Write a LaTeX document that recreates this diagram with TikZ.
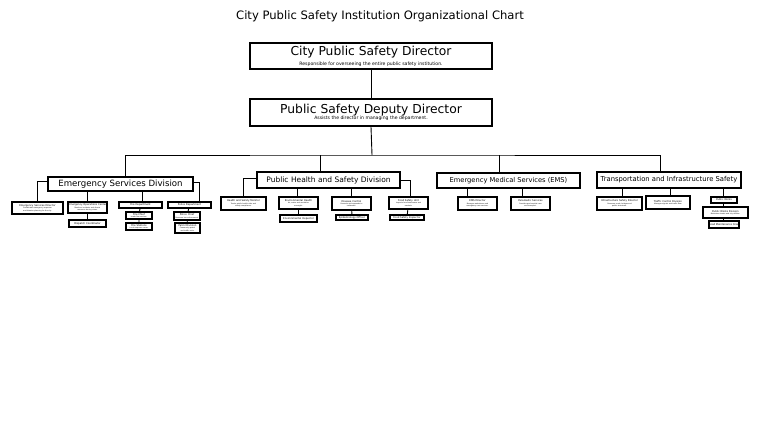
\documentclass[tikz,border=0pt]{standalone}
\usepackage{fontspec}
\setmainfont{DejaVu Sans}
\usepackage{tikz}
\newcommand{\boxttl}{\fontsize{2.5}{2.9}\selectfont}
\newcommand{\boxdsc}{\fontsize{1.7}{2.3}\selectfont}

\begin{document}
\begin{tikzpicture}[x=1pt,y=-1pt,
  topbox/.style={draw,line width=1.7pt,fill=white,inner sep=0pt,align=center,font=\fontsize{4.6}{5}\selectfont},
  divbox/.style={draw,line width=1.6pt,fill=white,inner sep=0pt},
  unitbox/.style={draw,line width=1.5pt,fill=white,inner sep=0pt,align=center,font=\boxdsc},
  link/.style={line width=0.9pt}]

 \useasboundingbox (0,0) rectangle (768,431);
 \node (title) at (380,16) {\fontsize{11.6}{13}\selectfont City Public Safety Institution Organizational Chart};

 \node[topbox,minimum width=242,minimum height=26] (director) at (371,56)
   {{\fontsize{12.3}{11}\selectfont City Public Safety Director}\\[3pt]Responsible for overseeing the entire public safety institution.};
 \node[topbox,minimum width=242,minimum height=27] (deputy) at (371,112.5)
   {{\fontsize{12.3}{9}\selectfont Public Safety Deputy Director}\\[-1.5pt]Assists the director in managing the department.};

 \node[divbox,minimum width=145,minimum height=14,font=\fontsize{8.6}{9}\selectfont] (esd) at (120.5,184) {Emergency Services Division};
 \node[divbox,minimum width=143,minimum height=16,font=\fontsize{7.5}{9}\selectfont] (phs) at (328.5,180) {Public Health and Safety Division};
 \node[divbox,minimum width=143,minimum height=15,font=\fontsize{6.7}{9}\selectfont] (ems) at (508.5,180.5) {Emergency Medical Services (EMS)};
 \node[divbox,minimum width=144,minimum height=16,font=\fontsize{6.8}{9}\selectfont] (tis) at (669,180) {Transportation and Infrastructure Safety};

 \coordinate (bus) at (372,155);
 \draw[link] (director) -- (deputy);
 \draw[link] (deputy.south) -- (bus);
 \draw[link] ([xshift=4.5]esd.north) |- (bus) -| ([xshift=-9]tis.north);
 \draw[link] ([xshift=-8.5]phs.north) -- ([xshift=-8.5]phs.north |- bus);
 \draw[link] ([xshift=-9.5]ems.north) -- ([xshift=-9.5]ems.north |- bus);

 % emergency services
 \node[unitbox,minimum width=51,minimum height=12] (esdA) at (37.5,208)
   {{\boxttl Emergency Services Director}\\Coordinates emergency response\\and disaster planning for the city.};
 \node[unitbox,minimum width=39,minimum height=11] (esdB) at (87.5,207.5)
   {{\boxttl Emergency Operations Center}\\Monitors incidents and directs\\resources during crises.};
 \node[unitbox,minimum width=37,minimum height=7] (esdBa) at (87.5,223.5) {\boxttl Dispatch Coordinator};
 \node[unitbox,minimum width=43,minimum height=6] (esdC) at (140.5,205) {\boxttl Fire Department};
 \node[unitbox,minimum width=26,minimum height=7] (esdCa) at (139,215.5) {{\boxttl Fire Chief}\\Leads fire services.};
 \node[unitbox,minimum width=26,minimum height=7] (esdCb) at (139,226.5) {{\boxttl Fire Stations}\\Local response crews.};
 \node[unitbox,minimum width=43,minimum height=6] (esdD) at (189.5,205) {\boxttl Police Department};
 \node[unitbox,minimum width=26,minimum height=8] (esdDa) at (187,216) {{\boxttl Police Chief}\\Oversees law enforcement.};
 \node[unitbox,minimum width=25,minimum height=10] (esdDb) at (187.5,228) {{\boxttl Patrol Division}\\Community patrol\\and traffic units.};

 \draw[link] ([yshift=2.5]esd.west) -| (esdA.north);
 \draw[link] (esdB.north) -- (esdB.north |- esd.south);
 \draw[link] ([xshift=1.5]esdC.north) -- ([xshift=1.5]esdC.north |- esd.south);
 \draw[link] ([yshift=1.5]esd.east) -| ([xshift=9.5]esdD.north);
 \draw[link] (esdB) -- (esdBa);
 \draw[link] (esdC) -- (esdCa) -- (esdCb);
 \draw[link] (esdD) -- (esdDa) -- (esdDb);

 % public health
 \node[unitbox,minimum width=45,minimum height=13] (phsA) at (243.5,203.5)
   {{\boxttl Health and Safety Monitor}\\Tracks public health risks and\\safety compliance.};
 \node[unitbox,minimum width=39,minimum height=12] (phsB) at (298.5,203)
   {{\boxttl Environmental Health}\\Air, water and sanitation\\oversight.};
 \node[unitbox,minimum width=37,minimum height=7] (phsBa) at (298.5,218.5) {\boxttl Environmental Inspector};
 \node[unitbox,minimum width=39,minimum height=13] (phsC) at (351.5,203.5)
   {{\boxttl Disease Control}\\Prevents and responds to\\outbreaks.};
 \node[unitbox,minimum width=32,minimum height=5] (phsCa) at (352,217.5) {\boxttl Epidemiology Officer};
 \node[unitbox,minimum width=39,minimum height=12] (phsD) at (408.5,203)
   {{\boxttl Food Safety Unit}\\Inspects food businesses and\\markets.};
 \node[unitbox,minimum width=34,minimum height=5] (phsDa) at (407,217.5) {\boxttl Food Safety Inspector};

 \draw[link] ([yshift=2]phs.west) -| (phsA.north);
 \draw[link] ([xshift=-1.5]phsB.north) -- ([xshift=-1.5]phsB.north |- phs.south);
 \draw[link] (phsC.north) -- (phsC.north |- phs.south);
 \draw[link] (phs.east) -| ([xshift=1.5]phsD.north);
 \draw[link] (phsB) -- (phsBa);
 \draw[link] (phsC) -- (phsCa);
 \draw[link] (phsD) -- (phsDa);

 % ems
 \node[unitbox,minimum width=39,minimum height=13] (emsA) at (477.5,203.5)
   {{\boxttl EMS Director}\\Manages ambulance and\\emergency care services.};
 \node[unitbox,minimum width=39,minimum height=13] (emsB) at (530.5,203.5)
   {{\boxttl Paramedic Services}\\Provides pre-hospital care\\and transport.};
 \draw[link] ([xshift=-10.5]emsA.north) -- ([xshift=-10.5]emsA.north |- ems.south);
 \draw[link] ([xshift=-8.5]emsB.north) -- ([xshift=-8.5]emsB.north |- ems.south);

 % transportation
 \node[unitbox,minimum width=45,minimum height=13] (tisA) at (619.5,203.5)
   {{\boxttl Infrastructure Safety Director}\\Oversees roads, bridges and\\public structures.};
 \node[unitbox,minimum width=44,minimum height=13] (tisB) at (668,202.5)
   {{\boxttl Traffic Control Division}\\Manages signals and traffic flow.};
 \node[unitbox,minimum width=26,minimum height=6] (tisC) at (724,200) {\boxttl Public Works};
 \node[unitbox,minimum width=45,minimum height=11] (tisCa) at (725.5,212.5)
   {{\boxttl Public Works Division}\\Maintains streets and city utilities.};
 \node[unitbox,minimum width=26,minimum height=7] (tisCb) at (724,224.5) {\boxttl Road Maintenance Crew};

 \draw[link] ([xshift=2.5]tisA.north) -- ([xshift=2.5]tisA.north |- tis.south);
 \draw[link] ([xshift=2]tisB.north) -- ([xshift=2]tisB.north |- tis.south);
 \draw[link] ([xshift=-1]tisC.north) -- ([xshift=-1]tisC.north |- tis.south);
 \draw[link] ([xshift=-1]tisC.south) -- ([xshift=-2.5]tisCa.north);
 \draw[link] ([xshift=-2.5]tisCa.south) -- ([xshift=-1]tisCb.north);
\end{tikzpicture}
\end{document}
